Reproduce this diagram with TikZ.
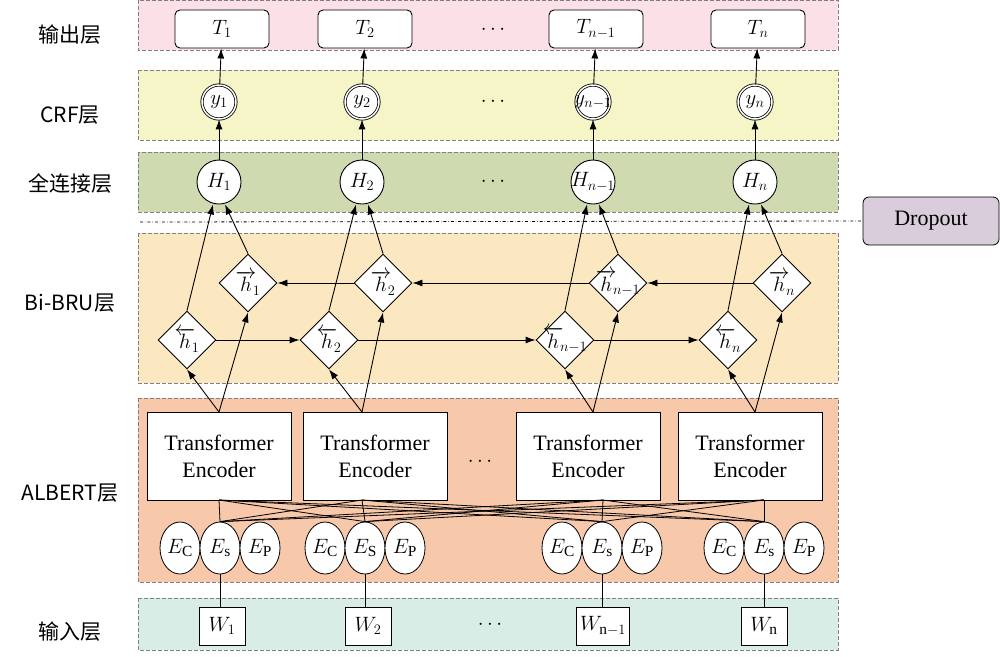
\documentclass[tikz,border=0pt]{standalone}
\usepackage{fontspec}
\setmainfont{Liberation Serif}
\newfontfamily\cjk{Noto Sans CJK SC}
\usetikzlibrary{shapes.geometric,arrows.meta}
\newcommand{\bx}[1]{\makebox[14pt]{$#1$}}
\begin{document}
\begin{tikzpicture}[x=1pt,y=-1pt,font=\fontsize{22}{26}\selectfont,
 layer/.style={draw=gray,dash pattern=on 4pt off 2pt,line width=0.8pt},
 lab/.style={font=\cjk\fontsize{21}{24}\selectfont,anchor=center},
 tb/.style={draw,rounded corners=5pt,minimum width=94pt,minimum height=38pt,fill=white,line width=0.9pt},
 yc/.style={draw,double,double distance=1.5pt,circle,minimum size=34pt,inner sep=0pt,fill=white,line width=0.8pt},
 hc/.style={draw,circle,minimum size=44pt,inner sep=0pt,fill=white,line width=0.9pt},
 dm/.style={draw,diamond,minimum size=58pt,inner sep=0pt,fill=white,line width=0.9pt},
 tr/.style={draw,minimum width=144pt,minimum height=88pt,fill=white,line width=0.9pt,align=center,font=\fontsize{22}{27}\selectfont},
 ec/.style={draw,ellipse,minimum width=40pt,minimum height=52pt,inner sep=0pt,fill=white,line width=0.8pt},
 wb/.style={draw,minimum width=46pt,minimum height=38pt,fill=white,line width=0.9pt},
 arr/.style={-{Latex[length=10pt,width=7pt]},line width=0.9pt},
 ln/.style={line width=0.8pt}]
\useasboundingbox (0,0) rectangle (1000,656);
% layers
\filldraw[layer,fill={rgb,255:red,252;green,224;blue,232}] (138,0) rectangle (838,50);
\filldraw[layer,fill={rgb,255:red,245;green,245;blue,200}] (138,70) rectangle (838,140);
\filldraw[layer,fill={rgb,255:red,208;green,218;blue,176}] (138,152) rectangle (838,212);
\filldraw[layer,fill={rgb,255:red,252;green,232;blue,192}] (138,233) rectangle (838,383);
\filldraw[layer,fill={rgb,255:red,247;green,200;blue,170}] (138,398) rectangle (838,582);
\filldraw[layer,fill={rgb,255:red,216;green,237;blue,230}] (138,598) rectangle (838,650);
% left labels
\node[lab] (l1) at (70,35) {输出层};
\node[lab] (l2) at (70,115) {CRF层};
\node[lab] (l3) at (70,183) {全连接层};
\node[lab] (l4) at (70,303) {Bi-BRU层};
\node[lab] (l5) at (70,493) {ALBERT层};
\node[lab] (l6) at (70,632) {输入层};
% dropout
\node[draw,rounded corners=6pt,fill={rgb,255:red,217;green,204;blue,219},minimum width=136pt,minimum height=48pt,line width=0.8pt] (dp) at (931,221) {Dropout};
\coordinate (dl) at (140,222);
\draw[dash dot,line width=0.8pt] (dl) -- (dp.west);
% columns
\foreach \i/\x/\sub in {1/219/1,2/362/2,3/593/{n-1},4/755/n}{
 \node[tb] (T\i) at (\x+3,29) {$T_{\sub}$};
 \node[yc] (y\i) at (\x,102) {\bx{y_{\sub}}};
 \node[hc] (H\i) at (\x,182) {\bx{H_{\sub}}};
 \draw[arr] (y\i) -- (T\i);
 \draw[arr] (H\i) -- (y\i);
}
\node[tr] (E1) at (219,456) {Transformer\\Encoder};
\node[tr] (E2) at (375,456) {Transformer\\Encoder};
\node[tr] (E3) at (588,456) {Transformer\\Encoder};
\node[tr] (E4) at (750,456) {Transformer\\Encoder};
% embeddings
\foreach \i/\x/\sname in {1/220/{\mathrm{s}},2/365/{\mathrm{S}},3/602/{\mathrm{s}},4/764/{\mathrm{s}}}{
 \node[ec] (C\i) at (\x-40,548) {\bx{E_{\mathrm{C}}}};
 \node[ec] (S\i) at (\x,548) {\bx{E_{\sname}}};
 \node[ec] (P\i) at (\x+40,548) {\bx{E_{\mathrm{P}}}};
}
\node[wb] (W1) at (222,626) {$W_1$};
\node[wb] (W2) at (368,626) {$W_2$};
\node[wb] (W3) at (603,626) {$W_{\mathrm{n}-1}$};
\node[wb] (W4) at (764,626) {$W_{\mathrm{n}}$};
\foreach \i in {1,...,4}{
 \draw[ln] (S\i.south) -- (S\i.south |- W\i.north);
}
\coordinate (B1) at (219,500);\coordinate (B2) at (362,500);
\coordinate (B3) at (603,500);\coordinate (B4) at (764,500);
\foreach \i in {1,...,4}{\foreach \j in {1,...,4}{\draw[ln] (S\i.north) -- (B\j);}}
% diamonds
\foreach \i/\a/\b/\sub in {1/187/248/1,2/329/383/2,3/565/618/{n-1},4/728/782/n}{
 \node[dm] (hb\i) at (\a,340) {\bx{\overleftarrow{h}\mkern-3mu_{\sub}}};
 \node[dm] (hf\i) at (\b,283) {\bx{\overrightarrow{h}\mkern-3mu_{\sub}}};
 \draw[arr] (hb\i.north) -- ([xshift=-6pt]H\i.south);
 \draw[arr] (hf\i.north) -- ([xshift=6pt]H\i.south);
}
\coordinate (A1) at (219,412);\coordinate (A2) at (362,412);
\coordinate (A3) at (593,412);\coordinate (A4) at (755,412);
\foreach \i in {1,...,4}{
 \draw[arr] (A\i) -- (hb\i.south);
 \draw[arr] (A\i) -- (hf\i.south);
}
\draw[arr] (hb1.east) -- (hb2.west);
\draw[arr] (hb2.east) -- (hb3.west);
\draw[arr] (hb3.east) -- (hb4.west);
\draw[arr] (hf2.west) -- (hf1.east);
\draw[arr] (hf3.west) -- (hf2.east);
\draw[arr] (hf4.west) -- (hf3.east);
% dots
\node (d1) at (493,30) {$\cdots$};
\node (d2) at (493,102) {$\cdots$};
\node (d3) at (493,182) {$\cdots$};
\node (d4) at (480,462) {$\cdots$};
\node (d5) at (490,625) {$\cdots$};
\end{tikzpicture}
\end{document}
